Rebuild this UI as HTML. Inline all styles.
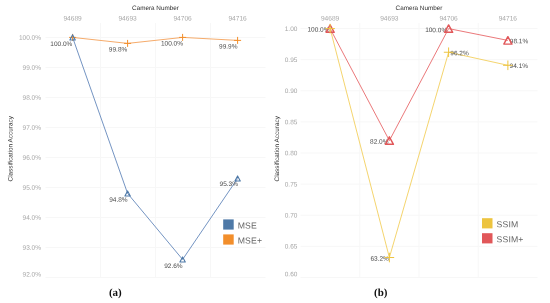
<!DOCTYPE html>
<html><head><meta charset="utf-8"><title>Classification Accuracy by Camera Number</title>
<style>
html,body{margin:0;padding:0;background:#fff;}
body{width:550px;height:303px;overflow:hidden;}
svg{display:block;font-family:"Liberation Sans", "DejaVu Sans", sans-serif;}
.cap{font-family:"Liberation Serif","DejaVu Serif",serif;font-weight:bold;}
</style></head><body>
<svg width="550" height="303" viewBox="0 0 550 303">
<rect width="550" height="303" fill="#fff"/>
<line x1="45.5" y1="37.4" x2="265.5" y2="37.4" stroke="#f7f7f7" stroke-width="1"/>
<line x1="45.5" y1="67.41" x2="265.5" y2="67.41" stroke="#f7f7f7" stroke-width="1"/>
<line x1="45.5" y1="97.42" x2="265.5" y2="97.42" stroke="#f7f7f7" stroke-width="1"/>
<line x1="45.5" y1="127.43" x2="265.5" y2="127.43" stroke="#f7f7f7" stroke-width="1"/>
<line x1="45.5" y1="157.44" x2="265.5" y2="157.44" stroke="#f7f7f7" stroke-width="1"/>
<line x1="45.5" y1="187.45" x2="265.5" y2="187.45" stroke="#f7f7f7" stroke-width="1"/>
<line x1="45.5" y1="217.46" x2="265.5" y2="217.46" stroke="#f7f7f7" stroke-width="1"/>
<line x1="45.5" y1="247.47" x2="265.5" y2="247.47" stroke="#f7f7f7" stroke-width="1"/>
<line x1="45.5" y1="277.48" x2="265.5" y2="277.48" stroke="#f7f7f7" stroke-width="1"/>
<line x1="100.5" y1="23" x2="100.5" y2="277" stroke="#f7f7f7" stroke-width="1"/>
<line x1="155.5" y1="23" x2="155.5" y2="277" stroke="#f7f7f7" stroke-width="1"/>
<line x1="210.5" y1="23" x2="210.5" y2="277" stroke="#f7f7f7" stroke-width="1"/>
<text x="41" y="39.7" transform="rotate(0.05 41 39.7)" text-anchor="end" font-size="6.5" fill="#a6a6a6">100.0%</text>
<text x="41" y="69.71" transform="rotate(0.05 41 69.71)" text-anchor="end" font-size="6.5" fill="#a6a6a6">99.0%</text>
<text x="41" y="99.72" transform="rotate(0.05 41 99.72)" text-anchor="end" font-size="6.5" fill="#a6a6a6">98.0%</text>
<text x="41" y="129.73" transform="rotate(0.05 41 129.73)" text-anchor="end" font-size="6.5" fill="#a6a6a6">97.0%</text>
<text x="41" y="159.74" transform="rotate(0.05 41 159.74)" text-anchor="end" font-size="6.5" fill="#a6a6a6">96.0%</text>
<text x="41" y="189.75" transform="rotate(0.05 41 189.75)" text-anchor="end" font-size="6.5" fill="#a6a6a6">95.0%</text>
<text x="41" y="219.76" transform="rotate(0.05 41 219.76)" text-anchor="end" font-size="6.5" fill="#a6a6a6">94.0%</text>
<text x="41" y="249.77" transform="rotate(0.05 41 249.77)" text-anchor="end" font-size="6.5" fill="#a6a6a6">93.0%</text>
<text x="41" y="276.58" transform="rotate(0.05 41 276.58)" text-anchor="end" font-size="6.5" fill="#a6a6a6">92.0%</text>
<text x="72.6" y="20.5" transform="rotate(0.05 72.6 20.5)" text-anchor="middle" font-size="6.6" fill="#a6a6a6">94689</text>
<text x="127.6" y="20.5" transform="rotate(0.05 127.6 20.5)" text-anchor="middle" font-size="6.6" fill="#a6a6a6">94693</text>
<text x="182.6" y="20.5" transform="rotate(0.05 182.6 20.5)" text-anchor="middle" font-size="6.6" fill="#a6a6a6">94706</text>
<text x="237.6" y="20.5" transform="rotate(0.05 237.6 20.5)" text-anchor="middle" font-size="6.6" fill="#a6a6a6">94716</text>
<text x="155.5" y="10.1" transform="rotate(0.05 155.5 10.1)" text-anchor="middle" font-size="6.35" fill="#2c2c2c">Camera Number</text>
<text transform="translate(12.5,148.8) rotate(-89.95)" text-anchor="middle" font-size="6.4" fill="#2c2c2c">Classification Accuracy</text>
<polyline points="72.6,37.4 127.6,43.4 182.6,37.4 237.6,40.4" fill="none" stroke="#f4a25a" stroke-width="0.9"/>
<polyline points="72.6,37.4 127.6,193.45 182.6,259.47 237.6,178.45" fill="none" stroke="#6488bb" stroke-width="0.9"/>
<text x="127.3" y="51.45" transform="rotate(0.05 127.3 51.45)" text-anchor="end" font-size="6.5" fill="#4a4a4a">99.8%</text>
<text x="183" y="45.45" transform="rotate(0.05 183 45.45)" text-anchor="end" font-size="6.5" fill="#4a4a4a">100.0%</text>
<text x="237.5" y="48.55" transform="rotate(0.05 237.5 48.55)" text-anchor="end" font-size="6.5" fill="#4a4a4a">99.9%</text>
<text x="72.4" y="45.95" transform="rotate(0.05 72.4 45.95)" text-anchor="end" font-size="6.5" fill="#4a4a4a">100.0%</text>
<text x="127.6" y="201.75" transform="rotate(0.05 127.6 201.75)" text-anchor="end" font-size="6.5" fill="#4a4a4a">94.8%</text>
<text x="182.6" y="268.05" transform="rotate(0.05 182.6 268.05)" text-anchor="end" font-size="6.5" fill="#4a4a4a">92.6%</text>
<text x="238" y="186.05" transform="rotate(0.05 238 186.05)" text-anchor="end" font-size="6.5" fill="#4a4a4a">95.3%</text>
<path d="M69.1,37.4 H76.1 M72.6,33.9 V40.9" stroke="#f28e2b" stroke-width="1.0"/>
<path d="M124.1,43.4 H131.1 M127.6,39.9 V46.9" stroke="#f28e2b" stroke-width="1.0"/>
<path d="M179.1,37.4 H186.1 M182.6,33.9 V40.9" stroke="#f28e2b" stroke-width="1.0"/>
<path d="M234.1,40.4 H241.1 M237.6,36.9 V43.9" stroke="#f28e2b" stroke-width="1.0"/>
<path d="M72.6,34.85 L75.3,39.95 L69.9,39.95 Z" fill="none" stroke="#4e79a7" stroke-width="1.1" stroke-linejoin="round"/>
<path d="M127.6,190.9 L130.3,196 L124.9,196 Z" fill="none" stroke="#4e79a7" stroke-width="1.1" stroke-linejoin="round"/>
<path d="M182.6,256.92 L185.3,262.02 L179.9,262.02 Z" fill="none" stroke="#4e79a7" stroke-width="1.1" stroke-linejoin="round"/>
<path d="M237.6,175.9 L240.3,181 L234.9,181 Z" fill="none" stroke="#4e79a7" stroke-width="1.1" stroke-linejoin="round"/>
<rect x="223.2" y="219.4" width="10.5" height="10.2" fill="#4e79a7"/>
<text x="237.7" y="228.4" transform="rotate(0.05 237.7 228.4)" text-anchor="start" font-size="8.7" fill="#666666" letter-spacing="0.15">MSE</text>
<rect x="223.2" y="234.4" width="10.5" height="10.2" fill="#f28e2b"/>
<text x="237.7" y="243.4" transform="rotate(0.05 237.7 243.4)" text-anchor="start" font-size="8.7" fill="#666666" letter-spacing="0.15">MSE+</text>
<line x1="300.5" y1="28.6" x2="537.5" y2="28.6" stroke="#f7f7f7" stroke-width="1"/>
<line x1="300.5" y1="59.71" x2="537.5" y2="59.71" stroke="#f7f7f7" stroke-width="1"/>
<line x1="300.5" y1="90.81" x2="537.5" y2="90.81" stroke="#f7f7f7" stroke-width="1"/>
<line x1="300.5" y1="121.92" x2="537.5" y2="121.92" stroke="#f7f7f7" stroke-width="1"/>
<line x1="300.5" y1="153.02" x2="537.5" y2="153.02" stroke="#f7f7f7" stroke-width="1"/>
<line x1="300.5" y1="184.12" x2="537.5" y2="184.12" stroke="#f7f7f7" stroke-width="1"/>
<line x1="300.5" y1="215.23" x2="537.5" y2="215.23" stroke="#f7f7f7" stroke-width="1"/>
<line x1="300.5" y1="246.33" x2="537.5" y2="246.33" stroke="#f7f7f7" stroke-width="1"/>
<line x1="300.5" y1="277.44" x2="537.5" y2="277.44" stroke="#f7f7f7" stroke-width="1"/>
<line x1="359.75" y1="23" x2="359.75" y2="277" stroke="#f7f7f7" stroke-width="1"/>
<line x1="419" y1="23" x2="419" y2="277" stroke="#f7f7f7" stroke-width="1"/>
<line x1="478.25" y1="23" x2="478.25" y2="277" stroke="#f7f7f7" stroke-width="1"/>
<text x="297.4" y="30.9" transform="rotate(0.05 297.4 30.9)" text-anchor="end" font-size="6.5" fill="#a6a6a6">1.00</text>
<text x="297.4" y="62.01" transform="rotate(0.05 297.4 62.01)" text-anchor="end" font-size="6.5" fill="#a6a6a6">0.95</text>
<text x="297.4" y="93.11" transform="rotate(0.05 297.4 93.11)" text-anchor="end" font-size="6.5" fill="#a6a6a6">0.90</text>
<text x="297.4" y="124.22" transform="rotate(0.05 297.4 124.22)" text-anchor="end" font-size="6.5" fill="#a6a6a6">0.85</text>
<text x="297.4" y="155.32" transform="rotate(0.05 297.4 155.32)" text-anchor="end" font-size="6.5" fill="#a6a6a6">0.80</text>
<text x="297.4" y="186.43" transform="rotate(0.05 297.4 186.43)" text-anchor="end" font-size="6.5" fill="#a6a6a6">0.75</text>
<text x="297.4" y="217.53" transform="rotate(0.05 297.4 217.53)" text-anchor="end" font-size="6.5" fill="#a6a6a6">0.70</text>
<text x="297.4" y="248.63" transform="rotate(0.05 297.4 248.63)" text-anchor="end" font-size="6.5" fill="#a6a6a6">0.65</text>
<text x="297.4" y="276.24" transform="rotate(0.05 297.4 276.24)" text-anchor="end" font-size="6.5" fill="#a6a6a6">0.60</text>
<text x="330.12" y="20.5" transform="rotate(0.05 330.12 20.5)" text-anchor="middle" font-size="6.6" fill="#a6a6a6">94689</text>
<text x="389.38" y="20.5" transform="rotate(0.05 389.38 20.5)" text-anchor="middle" font-size="6.6" fill="#a6a6a6">94693</text>
<text x="448.62" y="20.5" transform="rotate(0.05 448.62 20.5)" text-anchor="middle" font-size="6.6" fill="#a6a6a6">94706</text>
<text x="507.88" y="20.5" transform="rotate(0.05 507.88 20.5)" text-anchor="middle" font-size="6.6" fill="#a6a6a6">94716</text>
<text x="419" y="10.1" transform="rotate(0.05 419 10.1)" text-anchor="middle" font-size="6.35" fill="#2c2c2c">Camera Number</text>
<text transform="translate(279,148.8) rotate(-89.95)" text-anchor="middle" font-size="6.4" fill="#2c2c2c">Classification Accuracy</text>
<polyline points="330.12,28.6 389.38,140.58 448.62,28.6 507.88,40.42" fill="none" stroke="#e8696b" stroke-width="0.9"/>
<polyline points="330.12,28.6 389.38,257.53 448.62,52.24 507.88,65.3" fill="none" stroke="#f3cf5e" stroke-width="0.9"/>
<text x="329.5" y="31.65" transform="rotate(0.05 329.5 31.65)" text-anchor="end" font-size="6.5" fill="#4a4a4a">100.0%</text>
<text x="388.5" y="143.75" transform="rotate(0.05 388.5 143.75)" text-anchor="end" font-size="6.5" fill="#4a4a4a">82.0%</text>
<text x="447.2" y="32.15" transform="rotate(0.05 447.2 32.15)" text-anchor="end" font-size="6.5" fill="#4a4a4a">100.0%</text>
<text x="509.8" y="43.25" transform="rotate(0.05 509.8 43.25)" text-anchor="start" font-size="6.5" fill="#4a4a4a">98.1%</text>
<text x="388.9" y="260.75" transform="rotate(0.05 388.9 260.75)" text-anchor="end" font-size="6.5" fill="#4a4a4a">63.2%</text>
<text x="450.3" y="55.25" transform="rotate(0.05 450.3 55.25)" text-anchor="start" font-size="6.5" fill="#4a4a4a">96.2%</text>
<text x="509.6" y="68.05" transform="rotate(0.05 509.6 68.05)" text-anchor="start" font-size="6.5" fill="#4a4a4a">94.1%</text>
<path d="M330.12,24.9 L334.18,32.3 L326.07,32.3 Z" fill="none" stroke="#e15759" stroke-width="1.45" stroke-linejoin="round"/>
<path d="M389.38,136.88 L393.43,144.28 L385.32,144.28 Z" fill="none" stroke="#e15759" stroke-width="1.45" stroke-linejoin="round"/>
<path d="M448.62,24.9 L452.68,32.3 L444.57,32.3 Z" fill="none" stroke="#e15759" stroke-width="1.45" stroke-linejoin="round"/>
<path d="M507.88,36.72 L511.93,44.12 L503.82,44.12 Z" fill="none" stroke="#e15759" stroke-width="1.45" stroke-linejoin="round"/>
<path d="M325.32,28.6 H334.93 M330.12,23.8 V33.4" stroke="#edc43f" stroke-width="1.0"/>
<path d="M384.57,257.53 H394.18 M389.38,252.73 V262.33" stroke="#edc43f" stroke-width="1.0"/>
<path d="M443.82,52.24 H453.43 M448.62,47.44 V57.04" stroke="#edc43f" stroke-width="1.0"/>
<path d="M503.07,65.3 H512.67 M507.88,60.5 V70.1" stroke="#edc43f" stroke-width="1.0"/>
<rect x="482" y="218.2" width="10.5" height="10.2" fill="#edc43f"/>
<text x="496.5" y="227.2" transform="rotate(0.05 496.5 227.2)" text-anchor="start" font-size="8.7" fill="#666666" letter-spacing="0.15">SSIM</text>
<rect x="482" y="233.2" width="10.5" height="10.2" fill="#e15759"/>
<text x="496.5" y="242.2" transform="rotate(0.05 496.5 242.2)" text-anchor="start" font-size="8.7" fill="#666666" letter-spacing="0.15">SSIM+</text>
<text class="cap" x="115.3" y="296" transform="rotate(0.05 115.3 296)" text-anchor="middle" font-size="11" fill="#111">(a)</text>
<text class="cap" x="380.8" y="296" transform="rotate(0.05 380.8 296)" text-anchor="middle" font-size="11" fill="#111">(b)</text>
</svg>
</body></html>
